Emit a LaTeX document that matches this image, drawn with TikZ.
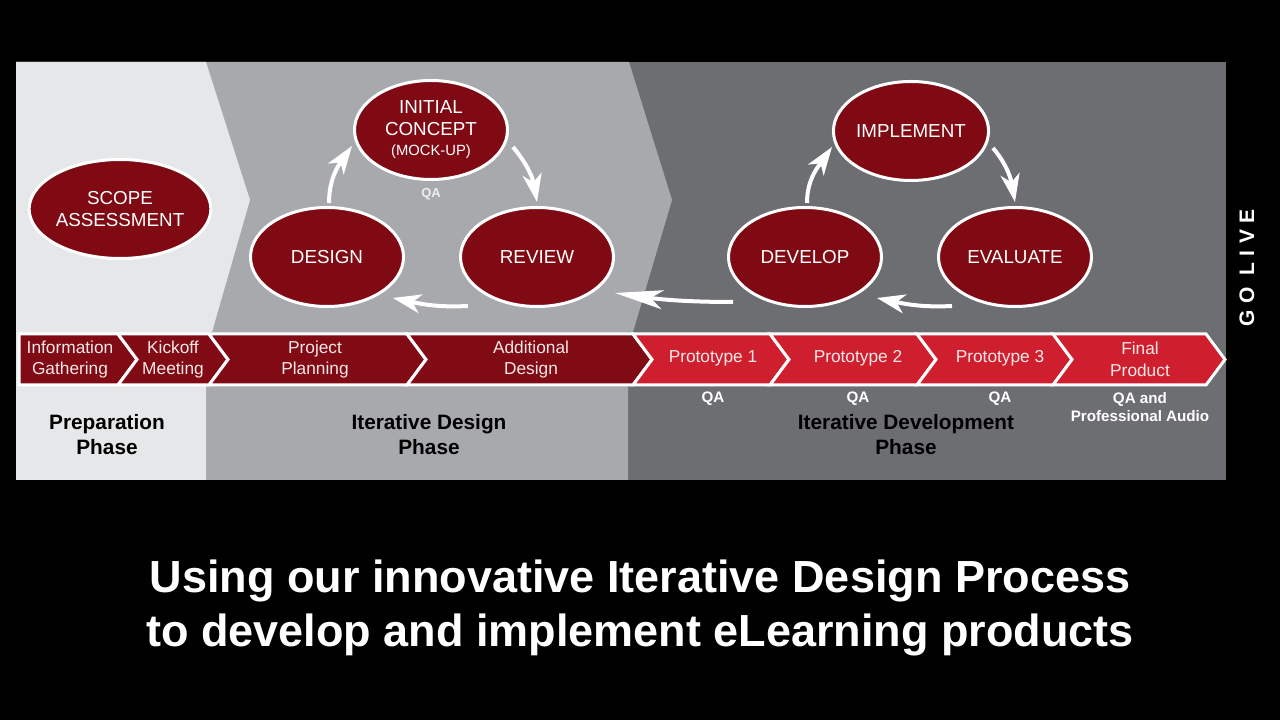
\documentclass[tikz,border=0pt]{standalone}
\usepackage{fontspec}
\setmainfont{Liberation Sans}
\usetikzlibrary{shapes.geometric,arrows.meta}
\definecolor{pdark}{HTML}{6D6E71}
\definecolor{pmid}{HTML}{A7A9AC}
\definecolor{plight}{HTML}{E6E7E8}
\definecolor{ellred}{HTML}{7F0A13}
\definecolor{bardark}{HTML}{800B15}
\definecolor{barbright}{HTML}{CF1F2E}
\definecolor{bartext}{HTML}{F4E8E8}
\definecolor{qagray}{HTML}{EDEDED}
\begin{document}
\begin{tikzpicture}[x=1pt,y=1pt,
  stage/.style={ellipse,draw=white,line width=3pt,fill=ellred,minimum width=153pt,minimum height=99pt,inner sep=0pt,text=white,align=center,font=\fontsize{18.8}{22}\selectfont},
  seg/.style={draw=white,line width=3pt,line join=miter},
  segtext/.style={text=bartext,align=center,font=\fontsize{17.3}{21.5}\selectfont},
  phase/.style={text=black,align=center,font=\bfseries\fontsize{20.8}{25}\selectfont},
  qa/.style={text=white,align=center,font=\bfseries\fontsize{15.2}{18}\selectfont},
  cyc/.style={white,line width=4pt,-{Stealth[length=28pt,width=19pt,inset=8pt]}},
  cyclong/.style={white,line width=4pt,-{Stealth[length=48pt,width=19pt,inset=12pt]}}]
\useasboundingbox (0,0) rectangle (1280,720);
\fill[black] (0,0) rectangle (1280,720);
% panel backgrounds
\fill[pdark] (16,240) rectangle (1226,658);
\fill[pmid] (16,658) -- (629,658) -- (672,520) -- (633,388) -- (628,388) -- (628,240) -- (16,240) -- cycle;
\fill[plight] (16,658) -- (206,658) -- (250,520) -- (212,388) -- (206,388) -- (206,240) -- (16,240) -- cycle;
% process bar
\filldraw[seg,fill=bardark] (19,386) -- (118,386) -- (137,360.5) -- (118,335) -- (19,335) -- cycle;
\filldraw[seg,fill=bardark] (118,386) -- (209,386) -- (228,360.5) -- (209,335) -- (118,335) -- (137,360.5) -- cycle;
\filldraw[seg,fill=bardark] (209,386) -- (407,386) -- (426,360.5) -- (407,335) -- (209,335) -- (228,360.5) -- cycle;
\filldraw[seg,fill=bardark] (407,386) -- (633,386) -- (652,360.5) -- (633,335) -- (407,335) -- (426,360.5) -- cycle;
\filldraw[seg,fill=barbright] (633,386) -- (770,386) -- (789,360.5) -- (770,335) -- (633,335) -- (652,360.5) -- cycle;
\filldraw[seg,fill=barbright] (770,386) -- (917,386) -- (936,360.5) -- (917,335) -- (770,335) -- (789,360.5) -- cycle;
\filldraw[seg,fill=barbright] (917,386) -- (1053,386) -- (1072,360.5) -- (1053,335) -- (917,335) -- (936,360.5) -- cycle;
\filldraw[seg,fill=barbright] (1053,386) -- (1206,386) -- (1225,360.5) -- (1206,335) -- (1053,335) -- (1072,360.5) -- cycle;
\node[segtext] (info) at (70,360.5) {Information\\Gathering};
\node[segtext] (kick) at (173,360.5) {Kickoff\\Meeting};
\node[segtext] (plan) at (315,360.5) {Project\\Planning};
\node[segtext] (adddes) at (531,360.5) {Additional\\Design};
\node[segtext] (p1) at (713,362) {Prototype 1};
\node[segtext] (p2) at (858,362) {Prototype 2};
\node[segtext] (p3) at (1000,362) {Prototype 3};
\node[segtext] (final) at (1140,360.5) {Final\\Product};
% phase labels
\node[phase] (prep) at (107,285.5) {Preparation\\Phase};
\node[phase] (idp) at (429,285.5) {Iterative Design\\Phase};
\node[phase] (idevp) at (906,285.5) {Iterative Development\\Phase};
\node[qa] (qa1) at (713,321) {QA};
\node[qa] (qa2) at (858,321) {QA};
\node[qa] (qa3) at (1000,321) {QA};
\node[qa] (qa4) at (1140,313) {QA and\\Professional Audio};
% ellipses
\node[stage] (scope) at (120,511) {SCOPE\\ASSESSMENT};
\node[stage] (design) at (327,463) {DESIGN};
\node[stage] (concept) at (431,590) {INITIAL\\CONCEPT\\[-2pt]{\fontsize{14.8}{17}\selectfont (MOCK-UP)}};
\node[stage] (review) at (537,463) {REVIEW};
\node[stage] (implement) at (911,589) {IMPLEMENT};
\node[stage] (develop) at (805,463) {DEVELOP};
\node[stage] (evaluate) at (1015,463) {EVALUATE};
\node[text=qagray,font=\bfseries\fontsize{13}{15}\selectfont] (qa0) at (431,526) {QA};
% cycle arrows
\draw[cyc] ([shift={(2,54)}]design.center) to[out=90,in=-125] ([shift={(-79,-16)}]concept.center);
\draw[cyc] ([shift={(82,-17)}]concept.center) to[out=-50,in=100] ([shift={(0,55)}]review.center);
\draw[cyc] ([shift={(-69,-49)}]review.center) to[out=183,in=-12] ([shift={(66,-41)}]design.center);
\draw[cyclong] ([shift={(-72,-45)}]develop.center) to[out=180,in=-8] ([shift={(78,-36)}]review.center);
\draw[cyc] ([shift={(2,54)}]develop.center) to[out=90,in=-125] ([shift={(-79,-16)}]implement.center);
\draw[cyc] ([shift={(82,-17)}]implement.center) to[out=-50,in=100] ([shift={(0,55)}]evaluate.center);
\draw[cyc] ([shift={(-63,-49)}]evaluate.center) to[out=183,in=-12] ([shift={(72,-41)}]develop.center);
% go live
\node[rotate=90,text=white,font=\bfseries\fontsize{21}{24}\selectfont\addfontfeature{LetterSpace=30}] (golive) at (1247,452) {GO LIVE};
% caption
\node[text=white,align=center,font=\bfseries\fontsize{45}{54}\selectfont] (caption) at (640,112) {Using our innovative Iterative Design Process\\to develop and implement eLearning products};
\end{tikzpicture}
\end{document}
